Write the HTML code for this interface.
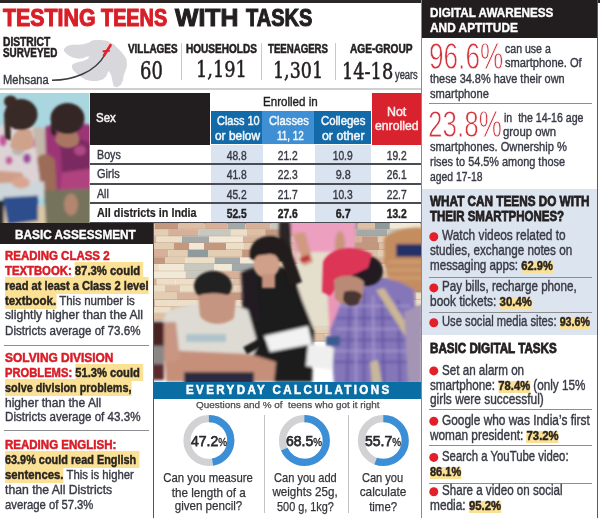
<!DOCTYPE html>
<html><head><meta charset="utf-8"><title>Testing teens with tasks</title>
<style>
html,body{margin:0;padding:0;background:#fff;}
body{width:600px;height:518px;position:relative;overflow:hidden;font-family:"Liberation Sans","DejaVu Sans",sans-serif;}
.t{position:absolute;white-space:nowrap;-webkit-text-stroke:0.4px currentColor;}
.t b{font-weight:700;color:#2a2420;-webkit-text-stroke:0.45px currentColor;}
.rb{font-weight:700;color:#d81e27;-webkit-text-stroke:0.55px currentColor;}
.hl{background:#fae196;padding:1px 0 1px 0;}
.hr{background:linear-gradient(to bottom,transparent 0,transparent 24%,#fae196 24%);padding:0 0 0 0;}
.hr b{font-size:13.4px;}
.box{position:absolute;}
svg{position:absolute;display:block;}
</style></head><body>
<!-- top rule -->
<div class="box" style="left:0;top:0;width:600px;height:3px;background:#2b2727"></div>
<!-- stats bottom rule -->
<div class="box" style="left:0;top:88px;width:421px;height:1.5px;background:#cfcfcf"></div>

<!-- stats dividers -->
<div class="box" style="left:181px;top:42.5px;width:1px;height:37.5px;background:#c9c9cb"></div>
<div class="box" style="left:261px;top:42.5px;width:1px;height:37.5px;background:#c9c9cb"></div>
<div class="box" style="left:335px;top:42.5px;width:1px;height:37.5px;background:#c9c9cb"></div>

<!-- Gujarat map -->
<svg style="left:50px;top:36px" width="82" height="56" viewBox="50 36 82 56">
  <path fill="#d8d8dc" d="M64.1,48.8 L67,46 L71.7,44.8 L77.5,44.8 L83.3,44.2 L89.2,42.4 L91.5,40.7 L95,40.1 L100.8,40.1 L106.7,40.7 L110.2,42.4 L113.7,44.2 L117.2,47.7 L120.7,51.2 L123.6,54.7 L126.5,59.3 L127,66.3 L125.3,71 L123.6,75.7 L123,80.3 L120.7,85 L117.2,87.3 L113.7,86.2 L112.5,81.5 L111.3,75.7 L109,71 L107.8,72.2 L106.7,75.7 L103.2,79.2 L97.3,81 L91.5,81 L85.7,79.8 L81,76.8 L76.3,73.3 L72.8,69.8 L71.7,66.3 L72.8,64 L77.5,62.3 L83.3,61.1 L88,58.8 L89.5,56.5 L86.8,56.6 L83.3,58.2 L78.7,58.8 L72.8,57.6 L68.2,55.3 L64,51.2 Z"/>
  <path d="M52,80.3 C72,80 95,73 105,54.5" stroke="#3a3a3f" stroke-width="1.5" fill="none"/>
  <path d="M104,55.5 L110.5,45.2" stroke="#e3202a" stroke-width="2.6" fill="none" stroke-linecap="round"/>
  <path d="M103.5,51.3 L109,50.8" stroke="#e3202a" stroke-width="2" fill="none" stroke-linecap="round"/>
</svg>

<!-- ================= PHOTO 1 ================= -->
<svg style="left:0;top:92.5px" width="89.5" height="130.5" viewBox="0 92.5 89.5 130.5">
  <defs>
    <filter id="bl1" x="-20%" y="-20%" width="140%" height="140%"><feGaussianBlur stdDeviation="1.8"/></filter>
    <filter id="bl1b" x="-20%" y="-20%" width="140%" height="140%"><feGaussianBlur stdDeviation="1.1"/></filter>
    <clipPath id="c1"><rect x="0" y="92.5" width="89.5" height="130.5"/></clipPath>
  </defs>
  <g clip-path="url(#c1)">
  <rect x="0" y="92" width="90" height="132" fill="#a9d6df"/>
  <g filter="url(#bl1)">
    <rect x="-4" y="205" width="98" height="20" fill="#d9c8a8"/>
    <!-- girl's top -->
    <path d="M-6,128 C2,122 26,122 40,128 L46,160 L42,182 L-6,184 Z" fill="#ddd3d6"/>
    <ellipse cx="3" cy="140" rx="4" ry="6" fill="#c8559e"/>
    <ellipse cx="27" cy="158" rx="4" ry="5" fill="#9a4a9e"/>
    <ellipse cx="34" cy="142" rx="3" ry="5" fill="#cf6cae"/>
    <ellipse cx="9" cy="160" rx="3.5" ry="4" fill="#c35a9a"/>
    <ellipse cx="18" cy="150" rx="6" ry="5" fill="#b9b3ad"/>
    <!-- gap between kids shoulder -->
    <path d="M32,128 C40,124 48,128 50,140 L50,175 L40,180 L36,150 Z" fill="#c4b8aa"/>
    <!-- boy jacket -->
    <path d="M45,127 C52,122 80,120 95,126 L95,195 L50,195 L46,160 Z" fill="#9c3476"/>
    <path d="M60,140 C70,136 84,138 92,144 L92,170 L62,172 Z" fill="#7a2a60"/><path d="M62,172 L92,168 L92,192 L60,192 Z" fill="#b0427f"/>
    <ellipse cx="80" cy="150" rx="6" ry="5" fill="#b04a82"/>
    <!-- boy arm -->
    <path d="M37,158 C40,152 50,152 55,160 L57,194 L42,196 Z" fill="#9c6c58"/>
    <!-- girl arm -->
    <path d="M-4,170 L22,172 L26,182 L-4,184 Z" fill="#cf9e88"/>
    <!-- notebook -->
    <path d="M-5,183 L44,181 L45,197 L-5,199 Z" fill="#cdd6da"/>
    <ellipse cx="21" cy="182" rx="9" ry="6" fill="#d8a690"/>
    <!-- jeans -->
    <path d="M3,197 L38,195 L38,220 L8,224 Z" fill="#2e4e8c"/>
    <!-- boy pants -->
    <path d="M44,190 L92,188 L92,226 L46,226 Z" fill="#74735c"/>
    <ellipse cx="71" cy="204" rx="7" ry="11" fill="#b48670"/>
    <rect x="-4" y="200" width="8" height="26" fill="#2a2a35"/>
  </g>
  <g filter="url(#bl1b)">
    <!-- girl head -->
    <path d="M10,146 C12,137 14,131 20,129 L30,129 C33,133 34,140 33,146 C30,151 16,152 10,146 Z" fill="#cfa28c"/>
    <ellipse cx="21" cy="114" rx="16.5" ry="15.5" fill="#372a27"/>
    <path d="M4,112 L10,112 L11,140 L5,138 Z" fill="#3a2c28"/>
    <ellipse cx="10.5" cy="101" rx="6.5" ry="6" fill="#3b2c28"/>
    <!-- boy head -->
    <path d="M55,140 C56,133 60,130 66,130 L74,130 C78,132 80,137 79,142 C76,149 60,150 55,140 Z" fill="#a97663"/>
    <ellipse cx="67.5" cy="118" rx="17" ry="15.5" fill="#352826"/>
    <path d="M51,118 L56,118 L56,136 L51,133 Z" fill="#35282a"/>
  </g>
  </g>
  </g>
</svg>

<!-- ================= TABLE ================= -->
<div class="box" style="left:89.5px;top:92.5px;width:120px;height:52px;background:#221d1f"></div>
<div class="box" style="left:210.5px;top:111.3px;width:51.7px;height:33.2px;background:#136aa9"></div>
<div class="box" style="left:262.2px;top:111.3px;width:51.8px;height:33.2px;background:#3e8fd3"></div>
<div class="box" style="left:314px;top:111.3px;width:56.6px;height:33.2px;background:#136aa9"></div>
<div class="box" style="left:371.5px;top:92.5px;width:50px;height:52px;background:#d8222d"></div>
<!-- light blue data columns -->
<div class="box" style="left:210.5px;top:144.5px;width:52px;height:78.5px;background:#dae4f0"></div>
<div class="box" style="left:314.5px;top:144.5px;width:56.5px;height:78.5px;background:#dae4f0"></div>
<!-- row lines -->
<div class="box" style="left:89.5px;top:163px;width:332px;height:2px;background:#4b4b52"></div>
<div class="box" style="left:89.5px;top:183px;width:332px;height:2px;background:#4b4b52"></div>
<div class="box" style="left:89.5px;top:202px;width:332px;height:2px;background:#4b4b52"></div>
<div class="box" style="left:89.5px;top:222px;width:332px;height:2px;background:#4b4b52"></div>

<!-- ================= BASIC ASSESSMENT ================= -->
<div class="box" style="left:0;top:223px;width:152.8px;height:20.6px;background:#221d1f"></div>
<div class="box" style="left:153px;top:223px;width:1px;height:295px;background:#55555a"></div>
<div class="box" style="left:4px;top:345px;width:145px;height:0;border-top:1px solid #8e8e92"></div>
<div class="box" style="left:4px;top:430px;width:145px;height:0;border-top:1px solid #8e8e92"></div>

<!-- ================= PHOTO 2 ================= -->
<svg style="left:154px;top:223px" width="267.5" height="159" viewBox="154 223 267.5 159">
  <defs>
    <filter id="bl2" x="-10%" y="-10%" width="120%" height="120%"><feGaussianBlur stdDeviation="1.8"/></filter>
    <filter id="bl2b" x="-10%" y="-10%" width="120%" height="120%"><feGaussianBlur stdDeviation="1"/></filter>
    <filter id="bl2w" x="-5%" y="-5%" width="110%" height="110%"><feGaussianBlur stdDeviation="0.7"/></filter>
    <clipPath id="c2"><rect x="154" y="223" width="267.5" height="159"/></clipPath>
  </defs>
  <g clip-path="url(#c2)">
  <g filter="url(#bl2w)"><rect x="138.1" y="223.0" width="16.6" height="6.5" fill="#dcbfa5"/>
<rect x="154.8" y="223.0" width="23.5" height="6.5" fill="#c4977f"/>
<rect x="178.2" y="223.0" width="26.1" height="6.5" fill="#dcbfa5"/>
<rect x="204.3" y="223.0" width="23.4" height="6.5" fill="#d6b098"/>
<rect x="227.7" y="223.0" width="17.8" height="6.5" fill="#a2a9a8"/>
<rect x="245.6" y="223.0" width="24.8" height="6.5" fill="#d6b098"/>
<rect x="270.4" y="223.0" width="21.9" height="6.5" fill="#c9c8bf"/>
<rect x="292.3" y="223.0" width="18.6" height="6.5" fill="#eddfc7"/>
<rect x="311.0" y="223.0" width="32.5" height="6.5" fill="#e3cdb3"/>
<rect x="343.5" y="223.0" width="14.3" height="6.5" fill="#8f9a9c"/>
<rect x="357.8" y="223.0" width="17.2" height="6.5" fill="#dcbfa5"/>
<rect x="375.0" y="223.0" width="14.9" height="6.5" fill="#8f9a9c"/>
<rect x="389.8" y="223.0" width="30.5" height="6.5" fill="#f2e8d6"/>
<rect x="420.3" y="223.0" width="25.9" height="6.5" fill="#dcbfa5"/>
<rect x="150" y="228.7" width="275" height="0.9" fill="#b99884" opacity="0.6"/>
<rect x="135.7" y="229.5" width="32.4" height="7.0" fill="#e3cdb3"/>
<rect x="168.1" y="229.5" width="30.0" height="7.0" fill="#d6b098"/>
<rect x="198.2" y="229.5" width="32.7" height="7.0" fill="#c9c8bf"/>
<rect x="230.9" y="229.5" width="15.9" height="7.0" fill="#eddfc7"/>
<rect x="246.8" y="229.5" width="18.3" height="7.0" fill="#dcbfa5"/>
<rect x="265.2" y="229.5" width="22.7" height="7.0" fill="#c4977f"/>
<rect x="287.9" y="229.5" width="20.0" height="7.0" fill="#d6b098"/>
<rect x="307.9" y="229.5" width="21.7" height="7.0" fill="#e3cdb3"/>
<rect x="329.6" y="229.5" width="25.7" height="7.0" fill="#c4977f"/>
<rect x="355.3" y="229.5" width="32.1" height="7.0" fill="#a2a9a8"/>
<rect x="387.4" y="229.5" width="32.6" height="7.0" fill="#c9c8bf"/>
<rect x="420.0" y="229.5" width="33.8" height="7.0" fill="#a2a9a8"/>
<rect x="150" y="235.7" width="275" height="0.9" fill="#b99884" opacity="0.6"/>
<rect x="136.0" y="236.5" width="20.5" height="6.5" fill="#d6b098"/>
<rect x="156.6" y="236.5" width="25.4" height="6.5" fill="#eddfc7"/>
<rect x="182.0" y="236.5" width="27.1" height="6.5" fill="#a2a9a8"/>
<rect x="209.1" y="236.5" width="33.8" height="6.5" fill="#f2e8d6"/>
<rect x="242.9" y="236.5" width="16.5" height="6.5" fill="#d6b098"/>
<rect x="259.4" y="236.5" width="26.8" height="6.5" fill="#d6b098"/>
<rect x="286.1" y="236.5" width="20.9" height="6.5" fill="#eddfc7"/>
<rect x="307.0" y="236.5" width="31.9" height="6.5" fill="#eddfc7"/>
<rect x="339.0" y="236.5" width="22.5" height="6.5" fill="#d6b098"/>
<rect x="361.5" y="236.5" width="16.4" height="6.5" fill="#c4977f"/>
<rect x="377.9" y="236.5" width="29.2" height="6.5" fill="#e3cdb3"/>
<rect x="407.1" y="236.5" width="25.7" height="6.5" fill="#d6b098"/>
<rect x="150" y="242.2" width="275" height="0.9" fill="#b99884" opacity="0.6"/>
<rect x="139.9" y="243.0" width="34.0" height="7.0" fill="#e3cdb3"/>
<rect x="173.9" y="243.0" width="15.5" height="7.0" fill="#c4977f"/>
<rect x="189.4" y="243.0" width="14.6" height="7.0" fill="#f2e8d6"/>
<rect x="204.0" y="243.0" width="22.2" height="7.0" fill="#c4977f"/>
<rect x="226.2" y="243.0" width="17.1" height="7.0" fill="#eddfc7"/>
<rect x="243.3" y="243.0" width="31.4" height="7.0" fill="#e3cdb3"/>
<rect x="274.7" y="243.0" width="33.2" height="7.0" fill="#dcbfa5"/>
<rect x="307.8" y="243.0" width="21.6" height="7.0" fill="#d6b098"/>
<rect x="329.4" y="243.0" width="24.4" height="7.0" fill="#a2a9a8"/>
<rect x="353.8" y="243.0" width="25.9" height="7.0" fill="#c4977f"/>
<rect x="379.7" y="243.0" width="26.4" height="7.0" fill="#dcbfa5"/>
<rect x="406.1" y="243.0" width="24.1" height="7.0" fill="#d6b098"/>
<rect x="150" y="249.2" width="275" height="0.9" fill="#b99884" opacity="0.6"/>
<rect x="135.7" y="250.0" width="32.7" height="7.5" fill="#d6b098"/>
<rect x="168.4" y="250.0" width="19.2" height="7.5" fill="#e3cdb3"/>
<rect x="187.6" y="250.0" width="20.8" height="7.5" fill="#8f9a9c"/>
<rect x="208.4" y="250.0" width="33.7" height="7.5" fill="#e3cdb3"/>
<rect x="242.1" y="250.0" width="21.5" height="7.5" fill="#c4977f"/>
<rect x="263.6" y="250.0" width="16.7" height="7.5" fill="#a2a9a8"/>
<rect x="280.3" y="250.0" width="20.6" height="7.5" fill="#e3cdb3"/>
<rect x="301.0" y="250.0" width="32.3" height="7.5" fill="#c4977f"/>
<rect x="333.3" y="250.0" width="19.6" height="7.5" fill="#d6b098"/>
<rect x="352.9" y="250.0" width="25.8" height="7.5" fill="#dcbfa5"/>
<rect x="378.7" y="250.0" width="14.4" height="7.5" fill="#e3cdb3"/>
<rect x="393.1" y="250.0" width="26.6" height="7.5" fill="#e3cdb3"/>
<rect x="419.7" y="250.0" width="26.0" height="7.5" fill="#eddfc7"/>
<rect x="150" y="256.7" width="275" height="0.9" fill="#b99884" opacity="0.6"/>
<rect x="143.7" y="257.5" width="21.4" height="6.5" fill="#c4977f"/>
<rect x="165.1" y="257.5" width="20.0" height="6.5" fill="#e3cdb3"/>
<rect x="185.1" y="257.5" width="29.4" height="6.5" fill="#eddfc7"/>
<rect x="214.6" y="257.5" width="25.4" height="6.5" fill="#a2a9a8"/>
<rect x="240.0" y="257.5" width="20.2" height="6.5" fill="#f2e8d6"/>
<rect x="260.2" y="257.5" width="30.1" height="6.5" fill="#f2e8d6"/>
<rect x="290.2" y="257.5" width="17.7" height="6.5" fill="#d6b098"/>
<rect x="308.0" y="257.5" width="28.0" height="6.5" fill="#eddfc7"/>
<rect x="336.0" y="257.5" width="20.4" height="6.5" fill="#e3cdb3"/>
<rect x="356.4" y="257.5" width="30.7" height="6.5" fill="#d6b098"/>
<rect x="387.1" y="257.5" width="31.1" height="6.5" fill="#eddfc7"/>
<rect x="418.2" y="257.5" width="20.7" height="6.5" fill="#a2a9a8"/>
<rect x="150" y="263.2" width="275" height="0.9" fill="#b99884" opacity="0.6"/>
<rect x="141.0" y="264.0" width="18.5" height="7.5" fill="#eddfc7"/>
<rect x="159.5" y="264.0" width="24.6" height="7.5" fill="#f2e8d6"/>
<rect x="184.1" y="264.0" width="30.1" height="7.5" fill="#c9c8bf"/>
<rect x="214.2" y="264.0" width="17.7" height="7.5" fill="#f2e8d6"/>
<rect x="231.9" y="264.0" width="30.1" height="7.5" fill="#a2a9a8"/>
<rect x="262.0" y="264.0" width="30.1" height="7.5" fill="#e3cdb3"/>
<rect x="292.1" y="264.0" width="16.6" height="7.5" fill="#f2e8d6"/>
<rect x="308.7" y="264.0" width="29.9" height="7.5" fill="#f2e8d6"/>
<rect x="338.6" y="264.0" width="20.9" height="7.5" fill="#d6b098"/>
<rect x="359.5" y="264.0" width="22.4" height="7.5" fill="#d6b098"/>
<rect x="381.9" y="264.0" width="32.4" height="7.5" fill="#eddfc7"/>
<rect x="414.4" y="264.0" width="14.1" height="7.5" fill="#dcbfa5"/>
<rect x="150" y="270.7" width="275" height="0.9" fill="#b99884" opacity="0.6"/>
<rect x="130.3" y="271.5" width="22.7" height="7.5" fill="#dcbfa5"/>
<rect x="152.9" y="271.5" width="32.5" height="7.5" fill="#f2e8d6"/>
<rect x="185.5" y="271.5" width="28.9" height="7.5" fill="#c9c8bf"/>
<rect x="214.4" y="271.5" width="27.3" height="7.5" fill="#d6b098"/>
<rect x="241.7" y="271.5" width="19.8" height="7.5" fill="#e3cdb3"/>
<rect x="261.4" y="271.5" width="18.5" height="7.5" fill="#eddfc7"/>
<rect x="280.0" y="271.5" width="25.8" height="7.5" fill="#f2e8d6"/>
<rect x="305.8" y="271.5" width="30.2" height="7.5" fill="#eddfc7"/>
<rect x="336.0" y="271.5" width="32.1" height="7.5" fill="#a2a9a8"/>
<rect x="368.0" y="271.5" width="32.5" height="7.5" fill="#dcbfa5"/>
<rect x="400.5" y="271.5" width="32.0" height="7.5" fill="#c4977f"/>
<rect x="150" y="278.2" width="275" height="0.9" fill="#b99884" opacity="0.6"/>
<rect x="140.4" y="279.0" width="16.4" height="6.5" fill="#d6b098"/>
<rect x="156.8" y="279.0" width="18.8" height="6.5" fill="#eddfc7"/>
<rect x="175.6" y="279.0" width="24.7" height="6.5" fill="#eddfc7"/>
<rect x="200.3" y="279.0" width="32.3" height="6.5" fill="#eddfc7"/>
<rect x="232.6" y="279.0" width="16.5" height="6.5" fill="#dcbfa5"/>
<rect x="249.1" y="279.0" width="24.8" height="6.5" fill="#8f9a9c"/>
<rect x="273.9" y="279.0" width="15.2" height="6.5" fill="#f2e8d6"/>
<rect x="289.1" y="279.0" width="16.4" height="6.5" fill="#c9c8bf"/>
<rect x="305.6" y="279.0" width="16.4" height="6.5" fill="#f2e8d6"/>
<rect x="322.0" y="279.0" width="19.5" height="6.5" fill="#dcbfa5"/>
<rect x="341.4" y="279.0" width="16.6" height="6.5" fill="#dcbfa5"/>
<rect x="358.0" y="279.0" width="23.8" height="6.5" fill="#c4977f"/>
<rect x="381.8" y="279.0" width="22.0" height="6.5" fill="#8f9a9c"/>
<rect x="403.8" y="279.0" width="19.0" height="6.5" fill="#c4977f"/>
<rect x="422.7" y="279.0" width="24.4" height="6.5" fill="#eddfc7"/>
<rect x="150" y="284.7" width="275" height="0.9" fill="#b99884" opacity="0.6"/>
<rect x="134.5" y="285.5" width="14.0" height="7.0" fill="#eddfc7"/>
<rect x="148.5" y="285.5" width="16.5" height="7.0" fill="#eddfc7"/>
<rect x="165.0" y="285.5" width="15.4" height="7.0" fill="#dcbfa5"/>
<rect x="180.4" y="285.5" width="31.1" height="7.0" fill="#eddfc7"/>
<rect x="211.5" y="285.5" width="24.0" height="7.0" fill="#e3cdb3"/>
<rect x="235.5" y="285.5" width="20.3" height="7.0" fill="#e3cdb3"/>
<rect x="255.8" y="285.5" width="26.9" height="7.0" fill="#c4977f"/>
<rect x="282.8" y="285.5" width="21.2" height="7.0" fill="#f2e8d6"/>
<rect x="304.0" y="285.5" width="20.6" height="7.0" fill="#eddfc7"/>
<rect x="324.6" y="285.5" width="25.1" height="7.0" fill="#a2a9a8"/>
<rect x="349.7" y="285.5" width="21.6" height="7.0" fill="#eddfc7"/>
<rect x="371.3" y="285.5" width="17.6" height="7.0" fill="#e3cdb3"/>
<rect x="388.9" y="285.5" width="26.1" height="7.0" fill="#8f9a9c"/>
<rect x="414.9" y="285.5" width="21.6" height="7.0" fill="#8f9a9c"/>
<rect x="150" y="291.7" width="275" height="0.9" fill="#b99884" opacity="0.6"/>
<rect x="132.3" y="292.5" width="15.1" height="7.5" fill="#c4977f"/>
<rect x="147.3" y="292.5" width="29.2" height="7.5" fill="#e3cdb3"/>
<rect x="176.5" y="292.5" width="33.0" height="7.5" fill="#d6b098"/>
<rect x="209.5" y="292.5" width="14.4" height="7.5" fill="#f2e8d6"/>
<rect x="223.9" y="292.5" width="19.4" height="7.5" fill="#c4977f"/>
<rect x="243.3" y="292.5" width="30.1" height="7.5" fill="#f2e8d6"/>
<rect x="273.4" y="292.5" width="16.6" height="7.5" fill="#eddfc7"/>
<rect x="290.0" y="292.5" width="20.5" height="7.5" fill="#dcbfa5"/>
<rect x="310.5" y="292.5" width="25.2" height="7.5" fill="#c9c8bf"/>
<rect x="335.7" y="292.5" width="16.4" height="7.5" fill="#a2a9a8"/>
<rect x="352.1" y="292.5" width="32.8" height="7.5" fill="#a2a9a8"/>
<rect x="384.9" y="292.5" width="31.0" height="7.5" fill="#d6b098"/>
<rect x="415.9" y="292.5" width="21.5" height="7.5" fill="#eddfc7"/>
<rect x="150" y="299.2" width="275" height="0.9" fill="#b99884" opacity="0.6"/>
<rect x="138.7" y="300.0" width="16.1" height="7.0" fill="#c4977f"/>
<rect x="154.8" y="300.0" width="14.1" height="7.0" fill="#eddfc7"/>
<rect x="168.9" y="300.0" width="29.5" height="7.0" fill="#eddfc7"/>
<rect x="198.4" y="300.0" width="15.8" height="7.0" fill="#eddfc7"/>
<rect x="214.2" y="300.0" width="31.6" height="7.0" fill="#eddfc7"/>
<rect x="245.8" y="300.0" width="14.5" height="7.0" fill="#c9c8bf"/>
<rect x="260.3" y="300.0" width="16.4" height="7.0" fill="#c9c8bf"/>
<rect x="276.7" y="300.0" width="27.5" height="7.0" fill="#c9c8bf"/>
<rect x="304.2" y="300.0" width="33.0" height="7.0" fill="#c4977f"/>
<rect x="337.2" y="300.0" width="30.0" height="7.0" fill="#eddfc7"/>
<rect x="367.2" y="300.0" width="29.3" height="7.0" fill="#d6b098"/>
<rect x="396.6" y="300.0" width="28.3" height="7.0" fill="#eddfc7"/>
<rect x="424.9" y="300.0" width="29.0" height="7.0" fill="#dcbfa5"/>
<rect x="150" y="306.2" width="275" height="0.9" fill="#b99884" opacity="0.6"/>
<rect x="139.0" y="307.0" width="31.4" height="6.5" fill="#eddfc7"/>
<rect x="170.4" y="307.0" width="15.5" height="6.5" fill="#dcbfa5"/>
<rect x="185.9" y="307.0" width="26.9" height="6.5" fill="#d6b098"/>
<rect x="212.9" y="307.0" width="28.0" height="6.5" fill="#dcbfa5"/>
<rect x="240.9" y="307.0" width="19.1" height="6.5" fill="#c4977f"/>
<rect x="259.9" y="307.0" width="32.8" height="6.5" fill="#c4977f"/>
<rect x="292.7" y="307.0" width="33.3" height="6.5" fill="#e3cdb3"/>
<rect x="326.0" y="307.0" width="18.7" height="6.5" fill="#dcbfa5"/>
<rect x="344.7" y="307.0" width="30.9" height="6.5" fill="#dcbfa5"/>
<rect x="375.6" y="307.0" width="22.3" height="6.5" fill="#c4977f"/>
<rect x="397.9" y="307.0" width="25.6" height="6.5" fill="#dcbfa5"/>
<rect x="423.5" y="307.0" width="27.7" height="6.5" fill="#eddfc7"/>
<rect x="150" y="312.7" width="275" height="0.9" fill="#b99884" opacity="0.6"/>
<rect x="132.1" y="313.5" width="17.0" height="7.0" fill="#eddfc7"/>
<rect x="149.0" y="313.5" width="29.0" height="7.0" fill="#dcbfa5"/>
<rect x="178.0" y="313.5" width="24.3" height="7.0" fill="#d6b098"/>
<rect x="202.3" y="313.5" width="28.4" height="7.0" fill="#f2e8d6"/>
<rect x="230.7" y="313.5" width="19.3" height="7.0" fill="#f2e8d6"/>
<rect x="250.1" y="313.5" width="25.7" height="7.0" fill="#e3cdb3"/>
<rect x="275.8" y="313.5" width="18.6" height="7.0" fill="#a2a9a8"/>
<rect x="294.4" y="313.5" width="33.1" height="7.0" fill="#f2e8d6"/>
<rect x="327.5" y="313.5" width="28.1" height="7.0" fill="#d6b098"/>
<rect x="355.6" y="313.5" width="31.1" height="7.0" fill="#c4977f"/>
<rect x="386.7" y="313.5" width="19.3" height="7.0" fill="#f2e8d6"/>
<rect x="406.0" y="313.5" width="14.5" height="7.0" fill="#d6b098"/>
<rect x="420.5" y="313.5" width="21.7" height="7.0" fill="#eddfc7"/>
<rect x="150" y="319.7" width="275" height="0.9" fill="#b99884" opacity="0.6"/>
<rect x="145.2" y="320.5" width="23.7" height="7.0" fill="#c9c8bf"/>
<rect x="168.9" y="320.5" width="22.4" height="7.0" fill="#a2a9a8"/>
<rect x="191.2" y="320.5" width="28.0" height="7.0" fill="#f2e8d6"/>
<rect x="219.3" y="320.5" width="25.6" height="7.0" fill="#dcbfa5"/>
<rect x="244.9" y="320.5" width="27.0" height="7.0" fill="#eddfc7"/>
<rect x="271.9" y="320.5" width="33.9" height="7.0" fill="#eddfc7"/>
<rect x="305.8" y="320.5" width="33.0" height="7.0" fill="#8f9a9c"/>
<rect x="338.7" y="320.5" width="31.6" height="7.0" fill="#eddfc7"/>
<rect x="370.4" y="320.5" width="32.2" height="7.0" fill="#dcbfa5"/>
<rect x="402.6" y="320.5" width="27.0" height="7.0" fill="#8f9a9c"/>
<rect x="150" y="326.7" width="275" height="0.9" fill="#b99884" opacity="0.6"/>
<rect x="130.8" y="327.5" width="31.1" height="6.5" fill="#f2e8d6"/>
<rect x="161.9" y="327.5" width="17.8" height="6.5" fill="#f2e8d6"/>
<rect x="179.7" y="327.5" width="17.7" height="6.5" fill="#a2a9a8"/>
<rect x="197.4" y="327.5" width="31.2" height="6.5" fill="#dcbfa5"/>
<rect x="228.6" y="327.5" width="19.1" height="6.5" fill="#c9c8bf"/>
<rect x="247.7" y="327.5" width="20.3" height="6.5" fill="#d6b098"/>
<rect x="268.0" y="327.5" width="28.6" height="6.5" fill="#eddfc7"/>
<rect x="296.6" y="327.5" width="15.9" height="6.5" fill="#c9c8bf"/>
<rect x="312.4" y="327.5" width="19.8" height="6.5" fill="#e3cdb3"/>
<rect x="332.2" y="327.5" width="25.6" height="6.5" fill="#a2a9a8"/>
<rect x="357.9" y="327.5" width="14.1" height="6.5" fill="#e3cdb3"/>
<rect x="372.0" y="327.5" width="22.7" height="6.5" fill="#d6b098"/>
<rect x="394.7" y="327.5" width="18.2" height="6.5" fill="#c4977f"/>
<rect x="412.9" y="327.5" width="33.1" height="6.5" fill="#e3cdb3"/>
<rect x="150" y="333.2" width="275" height="0.9" fill="#b99884" opacity="0.6"/>
<rect x="143.6" y="334.0" width="31.7" height="7.5" fill="#eddfc7"/>
<rect x="175.3" y="334.0" width="22.7" height="7.5" fill="#d6b098"/>
<rect x="197.9" y="334.0" width="24.5" height="7.5" fill="#f2e8d6"/>
<rect x="222.5" y="334.0" width="24.6" height="7.5" fill="#a2a9a8"/>
<rect x="247.0" y="334.0" width="27.6" height="7.5" fill="#e3cdb3"/>
<rect x="274.6" y="334.0" width="23.0" height="7.5" fill="#a2a9a8"/>
<rect x="297.6" y="334.0" width="27.4" height="7.5" fill="#dcbfa5"/>
<rect x="325.0" y="334.0" width="30.3" height="7.5" fill="#eddfc7"/>
<rect x="355.4" y="334.0" width="32.9" height="7.5" fill="#e3cdb3"/>
<rect x="388.3" y="334.0" width="25.3" height="7.5" fill="#d6b098"/>
<rect x="413.6" y="334.0" width="27.3" height="7.5" fill="#d6b098"/>
<rect x="150" y="340.7" width="275" height="0.9" fill="#b99884" opacity="0.6"/></g>
  <g filter="url(#bl2)">
    <rect x="279" y="221" width="12" height="36" fill="#2a2626"/>
    <!-- woman pink -->
    <path d="M290,220 L356,220 L354,256 L340,262 L296,262 Z" fill="#ec9fbf"/>
    <path d="M297,252 L334,252 L336,328 L300,328 Z" fill="#e4dfcc"/>
    <path d="M326,268 L354,268 L352,342 L330,342 Z" fill="#ea96b8"/>
    <path d="M293,234 L305,232 L313,262 L304,266 Z" fill="#cf9a80"/>
    <rect x="300" y="256" width="10" height="6" fill="#c0303a" transform="rotate(-20 305 259)"/>
    <ellipse cx="340" cy="244" rx="5" ry="13" fill="#c9957b"/>
    <!-- chair -->
    <path d="M384,238 C392,229 414,226 424,228 L424,292 L392,290 L384,264 Z" fill="#c38d60"/>
    <g stroke="#dcae82" stroke-width="1.5" opacity="0.8"><line x1="388" y1="262" x2="422" y2="262"/><line x1="388" y1="270" x2="422" y2="270"/><line x1="389" y1="278" x2="422" y2="278"/></g>
    <rect x="396" y="244" width="28" height="13" fill="#243066"/>
    <!-- girl black -->
    <path d="M243,272 C250,266 278,264 292,270 L302,300 L314,330 L312,382 L240,382 Z" fill="#1f1b1f"/>
    <path d="M241,272 L256,270 L260,322 L244,324 Z" fill="#211c20"/>
    <!-- man shirt purple -->
    <path d="M352,280 C370,274 398,278 414,290 L422,384 L334,384 L330,330 L342,300 Z" fill="#8576b9"/>
    <g stroke="#5e53a2" stroke-width="2.2" opacity="0.85"><line x1="350" y1="296" x2="347" y2="384"/><line x1="364" y1="292" x2="364" y2="384"/><line x1="382" y1="300" x2="384" y2="384"/><line x1="398" y1="300" x2="400" y2="384"/><line x1="336" y1="318" x2="410" y2="318"/><line x1="334" y1="340" x2="410" y2="340"/><line x1="334" y1="362" x2="410" y2="362"/></g>
    <g stroke="#b4a6d8" stroke-width="1.6" opacity="0.8"><line x1="356" y1="294" x2="356" y2="384"/><line x1="373" y1="296" x2="374" y2="384"/><line x1="336" y1="329" x2="410" y2="329"/><line x1="334" y1="351" x2="410" y2="351"/><line x1="336" y1="306" x2="410" y2="306"/></g>
    <path d="M376,290 L384,288 L412,332 L405,336 Z" fill="#cbb696"/>
    <path d="M404,312 L422,304 L422,384 L408,384 Z" fill="#a495b4"/>
    <path d="M370,362 L378,360 L382,384 L372,384 Z" fill="#c8b89a"/>
    <!-- boy t-shirt -->
    <path d="M166,312 C182,302 228,300 248,310 L258,345 L250,362 L164,362 L160,335 Z" fill="#dedbd4"/>
    <rect x="186" y="334" width="40" height="8" fill="#8fb3c4" opacity="0.6"/>
    <!-- boy arms -->
    <path d="M164,350 L250,354 L276,362 L274,382 L166,382 Z" fill="#c58f7a"/>
    <path d="M160,322 L176,322 L180,360 L164,362 Z" fill="#c89682"/>
    <rect x="184" y="372" width="70" height="12" fill="#2a2c40"/>
    <rect x="152" y="322" width="12" height="24" fill="#4a2228"/><rect x="152" y="346" width="12" height="18" fill="#8a8686"/><rect x="152" y="364" width="12" height="16" fill="#5a2a2e"/>
    <!-- papers -->
    <path d="M264,336 L308,326 L312,344 L270,352 Z" fill="#f2f2f2"/>
    <path d="M308,344 L334,348 L332,370 L306,366 Z" fill="#efefef"/>
    <rect x="326" y="336" width="14" height="10" fill="#3a5a90"/>
  </g>
  <g filter="url(#bl2b)">
    <!-- girl hair/face -->
    <path d="M250,258 C248,244 258,236 270,236 C282,236 290,244 292,254 L302,282 L290,286 L282,262 L256,262 Z" fill="#221b1c"/>
    <ellipse cx="266.5" cy="265" rx="13" ry="13" fill="#d0a08a"/>
    <rect x="262" y="274" width="13" height="14" fill="#c4937e"/>
    <path d="M253,256 C256,248 278,246 283,256 L270,254 Z" fill="#221b1c"/>
    <!-- boy head -->
    <ellipse cx="213" cy="286" rx="19" ry="15" fill="#242020"/>
    <path d="M198,296 C205,292 225,292 236,298 L234,318 C226,326 206,326 200,316 Z" fill="#c69581"/>
    <!-- man -->
    <ellipse cx="367" cy="271" rx="16" ry="15" fill="#211d20"/>
    <path d="M323,262 C330,246 356,244 372,254 L368,268 L342,280 L330,296 L322,292 Z" fill="#dc3457"/>
    <path d="M334,280 C340,274 358,274 364,282 L362,300 C354,306 340,306 335,298 Z" fill="#b98a76"/><path d="M344,292 C350,290 360,290 362,296 L358,304 C352,307 346,306 343,300 Z" fill="#4a3430"/>
    <!-- phone -->
    <rect x="244" y="342" width="20" height="8" fill="#1a1a1a" transform="rotate(-28 254 346)"/>
  </g>
  </g>
</svg>

<!-- ================= EVERYDAY ================= -->
<div class="box" style="left:153.5px;top:381.8px;width:268px;height:17px;background:#0a6ea5"></div>
<div class="box" style="left:264px;top:414.5px;width:1px;height:98.5px;background:#c4c4c6"></div>
<div class="box" style="left:348px;top:414.5px;width:1px;height:98.5px;background:#c4c4c6"></div>
<svg style="left:154px;top:400px" width="268" height="80" viewBox="154 400 268 80">
  <g fill="none" stroke-width="7.2">
    <circle cx="208.9" cy="440.5" r="21.9" stroke="#d2d2d4"/>
    <circle cx="208.9" cy="440.5" r="21.9" stroke="#3b8fd6" pathLength="100" stroke-dasharray="47.2 100" transform="rotate(-90 208.9 440.5)"/>
    <circle cx="304.4" cy="440.5" r="21.9" stroke="#d2d2d4"/>
    <circle cx="304.4" cy="440.5" r="21.9" stroke="#3b8fd6" pathLength="100" stroke-dasharray="68.5 100" transform="rotate(-90 304.4 440.5)"/>
    <circle cx="383.3" cy="440.5" r="21.9" stroke="#d2d2d4"/>
    <circle cx="383.3" cy="440.5" r="21.9" stroke="#3b8fd6" pathLength="100" stroke-dasharray="55.7 100" transform="rotate(-90 383.3 440.5)"/>
  </g>
</svg>

<!-- ================= RIGHT COLUMN ================= -->
<div class="box" style="left:421.3px;top:0;width:1px;height:518px;background:#8a8a8e"></div>
<div class="box" style="left:596.8px;top:0;width:1.2px;height:518px;background:#5a5a5e"></div>
<div class="box" style="left:422.3px;top:0;width:175px;height:37.6px;background:#221d1f"></div>
<div class="box" style="left:422.3px;top:188.7px;width:174.5px;height:146.6px;background:#dce4f0"></div>
<div class="box" style="left:429px;top:103px;width:163px;height:0;border-top:1px solid #8e8e92"></div>
<div class="box" style="left:429px;top:277px;width:163px;height:0;border-top:1px solid #8e8e92"></div>
<div class="box" style="left:429px;top:312px;width:163px;height:0;border-top:1px solid #8e8e92"></div>
<div class="box" style="left:429px;top:409px;width:163px;height:0;border-top:1px solid #8e8e92"></div>
<div class="box" style="left:429px;top:445px;width:163px;height:0;border-top:1px solid #8e8e92"></div>
<div class="box" style="left:429px;top:483px;width:163px;height:0;border-top:1px solid #8e8e92"></div>
<svg style="left:422px;top:0" width="24" height="518" viewBox="422 0 24 518">
  <g fill="#e3202a">
    <circle cx="433.8" cy="236.8" r="4.5"/>
    <circle cx="433.8" cy="287.9" r="4.5"/>
    <circle cx="433.8" cy="322.7" r="4.5"/>
    <circle cx="433.8" cy="370.9" r="4.5"/>
    <circle cx="433.8" cy="421.2" r="4.5"/>
    <circle cx="433.8" cy="457.4" r="4.5"/>
    <circle cx="433.8" cy="491.8" r="4.5"/>
  </g>
</svg>

<div class="t" id="t0" style="left:2.50px;top:5.81px;font-size:24.8px;line-height:24.8px;font-weight:700;color:#d81e27;-webkit-text-stroke:1.1px currentColor;transform:scaleX(0.8607);transform-origin:0 0;">TESTING</div>
<div class="t" id="t1" style="left:101.30px;top:5.81px;font-size:24.8px;line-height:24.8px;font-weight:700;color:#d81e27;-webkit-text-stroke:1.1px currentColor;transform:scaleX(0.8006);transform-origin:0 0;">TEENS</div>
<div class="t" id="t2" style="left:174.90px;top:5.81px;font-size:24.8px;line-height:24.8px;font-weight:700;color:#231f20;-webkit-text-stroke:1.1px currentColor;transform:scaleX(0.9991);transform-origin:0 0;">WITH</div>
<div class="t" id="t3" style="left:245.50px;top:5.81px;font-size:24.8px;line-height:24.8px;font-weight:700;color:#231f20;-webkit-text-stroke:1.1px currentColor;transform:scaleX(0.8053);transform-origin:0 0;">TASKS</div>
<div class="t" id="t4" style="left:2.90px;top:35.86px;font-size:12.8px;line-height:12.8px;font-weight:700;color:#231f20;-webkit-text-stroke:0.55px currentColor;transform:scaleX(0.8015);transform-origin:0 0;">DISTRICT</div>
<div class="t" id="t5" style="left:2.90px;top:46.96px;font-size:12.8px;line-height:12.8px;font-weight:700;color:#231f20;-webkit-text-stroke:0.55px currentColor;transform:scaleX(0.7738);transform-origin:0 0;">SURVEYED</div>
<div class="t" id="t6" style="left:3.00px;top:73.82px;font-size:12.5px;line-height:12.5px;font-weight:400;color:#383a45;transform:scaleX(0.8885);transform-origin:0 0;">Mehsana</div>
<div class="t" id="t7" style="left:127.50px;top:42.50px;font-size:12.4px;line-height:12.4px;font-weight:700;color:#231f20;-webkit-text-stroke:0.55px currentColor;transform:scaleX(0.7988);transform-origin:0 0;">VILLAGES</div>
<div class="t" id="t8" style="left:186.00px;top:42.50px;font-size:12.4px;line-height:12.4px;font-weight:700;color:#231f20;-webkit-text-stroke:0.55px currentColor;transform:scaleX(0.8120);transform-origin:0 0;">HOUSEHOLDS</div>
<div class="t" id="t9" style="left:268.00px;top:42.50px;font-size:12.4px;line-height:12.4px;font-weight:700;color:#231f20;-webkit-text-stroke:0.55px currentColor;transform:scaleX(0.7781);transform-origin:0 0;">TEENAGERS</div>
<div class="t" id="t10" style="left:350.00px;top:42.50px;font-size:12.4px;line-height:12.4px;font-weight:700;color:#231f20;-webkit-text-stroke:0.55px currentColor;transform:scaleX(0.8178);transform-origin:0 0;">AGE-GROUP</div>
<div class="t" id="t11" style="left:139.80px;top:60.22px;font-size:23.6px;line-height:23.6px;font-weight:400;color:#231f20;font-family:'DejaVu Serif Condensed','DejaVu Serif','Liberation Serif',serif;-webkit-text-stroke:0.5px currentColor;transform:scaleX(0.8440);transform-origin:0 0;">60</div>
<div class="t" id="t12" style="left:195.60px;top:58.47px;font-size:22.6px;line-height:22.6px;font-weight:400;color:#231f20;font-family:'DejaVu Serif Condensed','DejaVu Serif','Liberation Serif',serif;-webkit-text-stroke:0.5px currentColor;transform:scaleX(0.8730);transform-origin:0 0;">1,191</div>
<div class="t" id="t13" style="left:272.80px;top:59.27px;font-size:22.6px;line-height:22.6px;font-weight:400;color:#231f20;font-family:'DejaVu Serif Condensed','DejaVu Serif','Liberation Serif',serif;-webkit-text-stroke:0.5px currentColor;transform:scaleX(0.8593);transform-origin:0 0;">1,301</div>
<div class="t" id="t14" style="left:342.40px;top:59.87px;font-size:22.6px;line-height:22.6px;font-weight:400;color:#231f20;font-family:'DejaVu Serif Condensed','DejaVu Serif','Liberation Serif',serif;-webkit-text-stroke:0.5px currentColor;transform:scaleX(0.8738);transform-origin:0 0;">14-18</div>
<div class="t" id="t15" style="left:394.50px;top:68.84px;font-size:12px;line-height:12px;font-weight:400;color:#383a45;transform:scaleX(0.7736);transform-origin:0 0;">years</div>
<div class="t" id="t16" style="left:95.60px;top:111.26px;font-size:13.4px;line-height:13.4px;font-weight:400;color:#f2f2f2;-webkit-text-stroke:0.55px currentColor;transform:scaleX(0.8580);transform-origin:0 0;">Sex</div>
<div class="t" id="t17" style="left:263.30px;top:94.50px;font-size:13px;line-height:13px;font-weight:400;color:#231f20;transform:scaleX(0.8903);transform-origin:0 0;">Enrolled in</div>
<div class="t" id="t18" style="left:217.00px;top:114.20px;font-size:13px;line-height:13px;font-weight:400;color:#f4f8fc;-webkit-text-stroke:0.5px currentColor;transform:scaleX(0.8423);transform-origin:0 0;">Class 10</div>
<div class="t" id="t19" style="left:214.60px;top:128.70px;font-size:13px;line-height:13px;font-weight:400;color:#f4f8fc;-webkit-text-stroke:0.5px currentColor;transform:scaleX(0.9157);transform-origin:0 0;">or below</div>
<div class="t" id="t20" style="left:269.00px;top:114.20px;font-size:13px;line-height:13px;font-weight:400;color:#f4f8fc;-webkit-text-stroke:0.5px currentColor;transform:scaleX(0.8605);transform-origin:0 0;">Classes</div>
<div class="t" id="t21" style="left:277.00px;top:128.70px;font-size:13px;line-height:13px;font-weight:400;color:#f4f8fc;-webkit-text-stroke:0.5px currentColor;transform:scaleX(0.7616);transform-origin:0 0;">11, 12</div>
<div class="t" id="t22" style="left:321.00px;top:114.20px;font-size:13px;line-height:13px;font-weight:400;color:#f4f8fc;-webkit-text-stroke:0.5px currentColor;transform:scaleX(0.8776);transform-origin:0 0;">Colleges</div>
<div class="t" id="t23" style="left:322.00px;top:128.70px;font-size:13px;line-height:13px;font-weight:400;color:#f4f8fc;-webkit-text-stroke:0.5px currentColor;transform:scaleX(0.9506);transform-origin:0 0;">or other</div>
<div class="t" id="t24" style="left:386.50px;top:104.80px;font-size:13px;line-height:13px;font-weight:400;color:#fbeeee;-webkit-text-stroke:0.5px currentColor;transform:scaleX(0.9538);transform-origin:0 0;">Not</div>
<div class="t" id="t25" style="left:375.00px;top:119.40px;font-size:13px;line-height:13px;font-weight:400;color:#fbeeee;-webkit-text-stroke:0.5px currentColor;transform:scaleX(0.9402);transform-origin:0 0;">enrolled</div>
<div class="t" id="t26" style="left:97.00px;top:149.16px;font-size:12.8px;line-height:12.8px;font-weight:400;color:#383a45;transform:scaleX(0.8365);transform-origin:0 0;">Boys</div>
<div class="t" id="t27" style="left:224.82px;top:149.84px;font-size:12px;line-height:12px;font-weight:400;color:#383a45;transform:scaleX(0.8562);transform-origin:50% 0;">48.8</div>
<div class="t" id="t28" style="left:276.32px;top:149.84px;font-size:12px;line-height:12px;font-weight:400;color:#383a45;transform:scaleX(0.8562);transform-origin:50% 0;">21.2</div>
<div class="t" id="t29" style="left:331.32px;top:149.84px;font-size:12px;line-height:12px;font-weight:400;color:#383a45;transform:scaleX(0.8562);transform-origin:50% 0;">10.9</div>
<div class="t" id="t30" style="left:384.72px;top:149.84px;font-size:12px;line-height:12px;font-weight:400;color:#383a45;transform:scaleX(0.8562);transform-origin:50% 0;">19.2</div>
<div class="t" id="t31" style="left:97.00px;top:168.46px;font-size:12.8px;line-height:12.8px;font-weight:400;color:#383a45;transform:scaleX(0.8627);transform-origin:0 0;">Girls</div>
<div class="t" id="t32" style="left:224.82px;top:169.14px;font-size:12px;line-height:12px;font-weight:400;color:#383a45;transform:scaleX(0.8562);transform-origin:50% 0;">41.8</div>
<div class="t" id="t33" style="left:276.32px;top:169.14px;font-size:12px;line-height:12px;font-weight:400;color:#383a45;transform:scaleX(0.8562);transform-origin:50% 0;">22.3</div>
<div class="t" id="t34" style="left:334.66px;top:169.14px;font-size:12px;line-height:12px;font-weight:400;color:#383a45;transform:scaleX(0.8989);transform-origin:50% 0;">9.8</div>
<div class="t" id="t35" style="left:384.72px;top:169.14px;font-size:12px;line-height:12px;font-weight:400;color:#383a45;transform:scaleX(0.8562);transform-origin:50% 0;">26.1</div>
<div class="t" id="t36" style="left:97.00px;top:187.96px;font-size:12.8px;line-height:12.8px;font-weight:400;color:#383a45;transform:scaleX(0.8290);transform-origin:0 0;">All</div>
<div class="t" id="t37" style="left:224.82px;top:188.64px;font-size:12px;line-height:12px;font-weight:400;color:#383a45;transform:scaleX(0.8562);transform-origin:50% 0;">45.2</div>
<div class="t" id="t38" style="left:276.32px;top:188.64px;font-size:12px;line-height:12px;font-weight:400;color:#383a45;transform:scaleX(0.8562);transform-origin:50% 0;">21.7</div>
<div class="t" id="t39" style="left:331.32px;top:188.64px;font-size:12px;line-height:12px;font-weight:400;color:#383a45;transform:scaleX(0.8562);transform-origin:50% 0;">10.3</div>
<div class="t" id="t40" style="left:384.72px;top:188.64px;font-size:12px;line-height:12px;font-weight:400;color:#383a45;transform:scaleX(0.8562);transform-origin:50% 0;">22.7</div>
<div class="t" id="t41" style="left:97.00px;top:207.36px;font-size:12.8px;line-height:12.8px;font-weight:700;color:#231f20;-webkit-text-stroke:0.2px currentColor;transform:scaleX(0.8437);transform-origin:0 0;">All districts in India</div>
<div class="t" id="t42" style="left:224.82px;top:208.04px;font-size:12px;line-height:12px;font-weight:700;color:#231f20;transform:scaleX(0.8562);transform-origin:50% 0;">52.5</div>
<div class="t" id="t43" style="left:276.32px;top:208.04px;font-size:12px;line-height:12px;font-weight:700;color:#231f20;transform:scaleX(0.8562);transform-origin:50% 0;">27.6</div>
<div class="t" id="t44" style="left:334.66px;top:208.04px;font-size:12px;line-height:12px;font-weight:700;color:#231f20;transform:scaleX(0.8989);transform-origin:50% 0;">6.7</div>
<div class="t" id="t45" style="left:384.72px;top:208.04px;font-size:12px;line-height:12px;font-weight:700;color:#231f20;transform:scaleX(0.8562);transform-origin:50% 0;">13.2</div>
<div class="t" id="t46" style="left:15.00px;top:227.89px;font-size:13.6px;line-height:13.6px;font-weight:700;color:#ffffff;-webkit-text-stroke:0.4px currentColor;transform:scaleX(0.8676);transform-origin:0 0;">BASIC ASSESSMENT</div>
<div class="t" id="t47" style="left:5.00px;top:249.33px;font-size:13.2px;line-height:13.2px;font-weight:400;color:#383a45;transform:scaleX(0.8704);transform-origin:0 0;"><span class="rb">READING CLASS 2</span></div>
<div class="t" id="t48" style="left:5.00px;top:264.13px;font-size:13.2px;line-height:13.2px;font-weight:400;color:#383a45;transform:scaleX(0.8585);transform-origin:0 0;"><span class="rb">TEXTBOOK: </span><span class="hl"><b>87.3% could&nbsp;</b></span></div>
<div class="t" id="t49" style="left:5.00px;top:279.23px;font-size:13.2px;line-height:13.2px;font-weight:400;color:#383a45;transform:scaleX(0.8400);transform-origin:0 0;"><span class="hl"><b>read at least a Class 2 level</b></span></div>
<div class="t" id="t50" style="left:5.00px;top:293.83px;font-size:13.2px;line-height:13.2px;font-weight:400;color:#383a45;transform:scaleX(0.8732);transform-origin:0 0;"><span class="hl"><b>textbook.</b></span> This number is</div>
<div class="t" id="t51" style="left:5.00px;top:308.43px;font-size:13.2px;line-height:13.2px;font-weight:400;color:#383a45;transform:scaleX(0.9227);transform-origin:0 0;">slightly higher than the All</div>
<div class="t" id="t52" style="left:5.00px;top:323.73px;font-size:13.2px;line-height:13.2px;font-weight:400;color:#383a45;transform:scaleX(0.8802);transform-origin:0 0;">Districts average of 73.6%</div>
<div class="t" id="t53" style="left:5.00px;top:351.03px;font-size:13.2px;line-height:13.2px;font-weight:400;color:#383a45;transform:scaleX(0.9046);transform-origin:0 0;"><span class="rb">SOLVING DIVISION</span></div>
<div class="t" id="t54" style="left:5.00px;top:365.53px;font-size:13.2px;line-height:13.2px;font-weight:400;color:#383a45;transform:scaleX(0.8483);transform-origin:0 0;"><span class="rb">PROBLEMS: </span><span class="hl"><b>51.3% could&nbsp;</b></span></div>
<div class="t" id="t55" style="left:5.00px;top:380.63px;font-size:13.2px;line-height:13.2px;font-weight:400;color:#383a45;transform:scaleX(0.8219);transform-origin:0 0;"><span class="hl"><b>solve division problems,</b></span></div>
<div class="t" id="t56" style="left:5.00px;top:395.53px;font-size:13.2px;line-height:13.2px;font-weight:400;color:#383a45;transform:scaleX(0.9121);transform-origin:0 0;">higher than the All</div>
<div class="t" id="t57" style="left:5.00px;top:410.13px;font-size:13.2px;line-height:13.2px;font-weight:400;color:#383a45;transform:scaleX(0.8802);transform-origin:0 0;">Districts average of 43.3%</div>
<div class="t" id="t58" style="left:5.00px;top:438.03px;font-size:13.2px;line-height:13.2px;font-weight:400;color:#383a45;transform:scaleX(0.8730);transform-origin:0 0;"><span class="rb">READING ENGLISH:</span></div>
<div class="t" id="t59" style="left:5.00px;top:452.93px;font-size:13.2px;line-height:13.2px;font-weight:400;color:#383a45;transform:scaleX(0.8248);transform-origin:0 0;"><span class="hl"><b>63.9% could read English&nbsp;</b></span></div>
<div class="t" id="t60" style="left:5.00px;top:467.63px;font-size:13.2px;line-height:13.2px;font-weight:400;color:#383a45;transform:scaleX(0.8584);transform-origin:0 0;"><span class="hl"><b>sentences.</b></span> This is higher</div>
<div class="t" id="t61" style="left:5.00px;top:482.83px;font-size:13.2px;line-height:13.2px;font-weight:400;color:#383a45;transform:scaleX(0.9256);transform-origin:0 0;">than the All Districts</div>
<div class="t" id="t62" style="left:5.00px;top:497.83px;font-size:13.2px;line-height:13.2px;font-weight:400;color:#383a45;transform:scaleX(0.8550);transform-origin:0 0;">average of 57.3%</div>
<div class="t" id="t63" style="left:186.00px;top:384.43px;font-size:12.6px;line-height:12.6px;font-weight:700;color:#ffffff;letter-spacing:2.6px;-webkit-text-stroke:0.5px currentColor;transform:scaleX(0.9180);transform-origin:0 0;">EVERYDAY CALCULATIONS</div>
<div class="t" id="t64" style="left:196.00px;top:400.04px;font-size:9.4px;line-height:9.4px;font-weight:400;color:#4a4a50;-webkit-text-stroke:0.25px currentColor;transform:scaleX(1.0579);transform-origin:0 0;">Questions and % of&nbsp; teens who got it right</div>
<div class="t" id="t65" style="left:188.92px;top:433.08px;font-size:15.5px;line-height:15.5px;font-weight:400;color:#2b2b30;transform:scaleX(0.9011);transform-origin:50% 0;"><span style="-webkit-text-stroke:0.75px currentColor">47.2</span><span style="font-size:11px">%</span></div>
<div class="t" id="t66" style="left:284.42px;top:433.08px;font-size:15.5px;line-height:15.5px;font-weight:400;color:#2b2b30;transform:scaleX(0.9011);transform-origin:50% 0;"><span style="-webkit-text-stroke:0.75px currentColor">68.5</span><span style="font-size:11px">%</span></div>
<div class="t" id="t67" style="left:363.32px;top:433.08px;font-size:15.5px;line-height:15.5px;font-weight:400;color:#2b2b30;transform:scaleX(0.9011);transform-origin:50% 0;"><span style="-webkit-text-stroke:0.75px currentColor">55.7</span><span style="font-size:11px">%</span></div>
<div class="t" id="t68" style="left:156.45px;top:470.53px;font-size:13.2px;line-height:13.2px;font-weight:400;color:#33333a;-webkit-text-stroke:0.25px currentColor;transform:scaleX(0.8608);transform-origin:50% 0;">Can you measure</div>
<div class="t" id="t69" style="left:166.70px;top:485.53px;font-size:13.2px;line-height:13.2px;font-weight:400;color:#33333a;-webkit-text-stroke:0.25px currentColor;transform:scaleX(0.8864);transform-origin:50% 0;">the length of a</div>
<div class="t" id="t70" style="left:170.01px;top:499.33px;font-size:13.2px;line-height:13.2px;font-weight:400;color:#33333a;-webkit-text-stroke:0.25px currentColor;transform:scaleX(0.8768);transform-origin:50% 0;">given pencil?</div>
<div class="t" id="t71" style="left:267.60px;top:470.73px;font-size:13.2px;line-height:13.2px;font-weight:400;color:#33333a;-webkit-text-stroke:0.25px currentColor;transform:scaleX(0.8383);transform-origin:50% 0;">Can you add</div>
<div class="t" id="t72" style="left:267.98px;top:485.33px;font-size:13.2px;line-height:13.2px;font-weight:400;color:#33333a;-webkit-text-stroke:0.25px currentColor;transform:scaleX(0.8805);transform-origin:50% 0;">weights 25g,</div>
<div class="t" id="t73" style="left:270.53px;top:500.03px;font-size:13.2px;line-height:13.2px;font-weight:400;color:#33333a;-webkit-text-stroke:0.25px currentColor;transform:scaleX(0.8254);transform-origin:50% 0;">500 g, 1kg?</div>
<div class="t" id="t74" style="left:358.44px;top:470.73px;font-size:13.2px;line-height:13.2px;font-weight:400;color:#33333a;-webkit-text-stroke:0.25px currentColor;transform:scaleX(0.8407);transform-origin:50% 0;">Can you</div>
<div class="t" id="t75" style="left:356.97px;top:485.33px;font-size:13.2px;line-height:13.2px;font-weight:400;color:#33333a;-webkit-text-stroke:0.25px currentColor;transform:scaleX(0.8970);transform-origin:50% 0;">calculate</div>
<div class="t" id="t76" style="left:366.88px;top:500.03px;font-size:13.2px;line-height:13.2px;font-weight:400;color:#33333a;-webkit-text-stroke:0.25px currentColor;transform:scaleX(0.8682);transform-origin:50% 0;">time?</div>
<div class="t" id="t77" style="left:429.60px;top:6.06px;font-size:13.4px;line-height:13.4px;font-weight:700;color:#ffffff;-webkit-text-stroke:0.4px currentColor;transform:scaleX(0.8744);transform-origin:0 0;">DIGITAL AWARENESS</div>
<div class="t" id="t78" style="left:429.60px;top:21.06px;font-size:13.4px;line-height:13.4px;font-weight:700;color:#ffffff;-webkit-text-stroke:0.4px currentColor;transform:scaleX(0.8862);transform-origin:0 0;">AND APTITUDE</div>
<div class="t" id="t79" style="left:428.50px;top:38.53px;font-size:36px;line-height:36px;font-weight:400;color:#d6333c;-webkit-text-stroke:0.8px #fff;transform:scaleX(0.7269);transform-origin:0 0;">96.6%</div>
<div class="t" id="t80" style="left:505.00px;top:41.70px;font-size:13px;line-height:13px;font-weight:400;color:#383a45;transform:scaleX(0.8124);transform-origin:0 0;">can use a</div>
<div class="t" id="t81" style="left:505.00px;top:56.40px;font-size:13px;line-height:13px;font-weight:400;color:#383a45;transform:scaleX(0.8559);transform-origin:0 0;">smartphone. Of</div>
<div class="t" id="t82" style="left:429.60px;top:71.50px;font-size:13px;line-height:13px;font-weight:400;color:#383a45;transform:scaleX(0.8390);transform-origin:0 0;">these 34.8% have their own</div>
<div class="t" id="t83" style="left:429.60px;top:86.50px;font-size:13px;line-height:13px;font-weight:400;color:#383a45;transform:scaleX(0.8579);transform-origin:0 0;">smartphone</div>
<div class="t" id="t84" style="left:427.80px;top:106.53px;font-size:36px;line-height:36px;font-weight:400;color:#d6333c;-webkit-text-stroke:0.8px #fff;transform:scaleX(0.7230);transform-origin:0 0;">23.8%</div>
<div class="t" id="t85" style="left:504.00px;top:110.60px;font-size:13px;line-height:13px;font-weight:400;color:#383a45;transform:scaleX(0.8147);transform-origin:0 0;">in&nbsp; the 14-16 age</div>
<div class="t" id="t86" style="left:503.00px;top:124.90px;font-size:13px;line-height:13px;font-weight:400;color:#383a45;transform:scaleX(0.8729);transform-origin:0 0;">group own</div>
<div class="t" id="t87" style="left:430.00px;top:140.00px;font-size:13px;line-height:13px;font-weight:400;color:#383a45;transform:scaleX(0.8579);transform-origin:0 0;">smartphones. Ownership %</div>
<div class="t" id="t88" style="left:430.00px;top:154.80px;font-size:13px;line-height:13px;font-weight:400;color:#383a45;transform:scaleX(0.8377);transform-origin:0 0;">rises to 54.5% among those</div>
<div class="t" id="t89" style="left:430.00px;top:169.70px;font-size:13px;line-height:13px;font-weight:400;color:#383a45;transform:scaleX(0.7966);transform-origin:0 0;">aged 17-18</div>
<div class="t" id="t90" style="left:429.60px;top:194.18px;font-size:14.2px;line-height:14.2px;font-weight:700;color:#231f20;-webkit-text-stroke:0.8px currentColor;transform:scaleX(0.8277);transform-origin:0 0;">WHAT CAN TEENS DO WITH</div>
<div class="t" id="t91" style="left:429.60px;top:208.78px;font-size:14.2px;line-height:14.2px;font-weight:700;color:#231f20;-webkit-text-stroke:0.8px currentColor;transform:scaleX(0.8101);transform-origin:0 0;">THEIR SMARTPHONES?</div>
<div class="t" id="t92" style="left:442.00px;top:228.35px;font-size:14px;line-height:14px;font-weight:400;color:#383a45;transform:scaleX(0.8478);transform-origin:0 0;">Watch videos related to</div>
<div class="t" id="t93" style="left:429.60px;top:243.45px;font-size:14px;line-height:14px;font-weight:400;color:#383a45;transform:scaleX(0.8342);transform-origin:0 0;">studies, exchange notes on</div>
<div class="t" id="t94" style="left:429.60px;top:258.05px;font-size:14px;line-height:14px;font-weight:400;color:#383a45;transform:scaleX(0.8321);transform-origin:0 0;">messaging apps: <span class="hr"><b>62.9%</b></span></div>
<div class="t" id="t95" style="left:442.00px;top:279.45px;font-size:14px;line-height:14px;font-weight:400;color:#383a45;transform:scaleX(0.8327);transform-origin:0 0;">Pay bills, recharge phone,</div>
<div class="t" id="t96" style="left:429.60px;top:294.45px;font-size:14px;line-height:14px;font-weight:400;color:#383a45;transform:scaleX(0.8515);transform-origin:0 0;">book tickets: <span class="hr"><b>30.4%</b></span></div>
<div class="t" id="t97" style="left:442.00px;top:314.25px;font-size:14px;line-height:14px;font-weight:400;color:#383a45;transform:scaleX(0.7999);transform-origin:0 0;">Use social media sites: <span class="hr"><b>93.6%</b></span></div>
<div class="t" id="t98" style="left:442.00px;top:362.55px;font-size:14px;line-height:14px;font-weight:400;color:#383a45;transform:scaleX(0.8306);transform-origin:0 0;">Set an alarm on</div>
<div class="t" id="t99" style="left:429.60px;top:377.55px;font-size:14px;line-height:14px;font-weight:400;color:#383a45;transform:scaleX(0.8362);transform-origin:0 0;">smartphone: <span class="hr"><b>78.4%</b></span> (only 15%</div>
<div class="t" id="t100" style="left:429.60px;top:391.95px;font-size:14px;line-height:14px;font-weight:400;color:#383a45;transform:scaleX(0.8503);transform-origin:0 0;">girls were successful)</div>
<div class="t" id="t101" style="left:442.00px;top:412.75px;font-size:14px;line-height:14px;font-weight:400;color:#383a45;transform:scaleX(0.8491);transform-origin:0 0;">Google who was India’s first</div>
<div class="t" id="t102" style="left:429.60px;top:428.15px;font-size:14px;line-height:14px;font-weight:400;color:#383a45;transform:scaleX(0.8440);transform-origin:0 0;">woman president: <span class="hr"><b>73.2%</b></span></div>
<div class="t" id="t103" style="left:442.00px;top:448.95px;font-size:14px;line-height:14px;font-weight:400;color:#383a45;transform:scaleX(0.8119);transform-origin:0 0;">Search a YouTube video:</div>
<div class="t" id="t104" style="left:429.60px;top:463.55px;font-size:14px;line-height:14px;font-weight:400;color:#383a45;transform:scaleX(0.8217);transform-origin:0 0;"><span class="hr"><b>86.1%</b></span></div>
<div class="t" id="t105" style="left:442.00px;top:483.35px;font-size:14px;line-height:14px;font-weight:400;color:#383a45;transform:scaleX(0.8286);transform-origin:0 0;">Share a video on social</div>
<div class="t" id="t106" style="left:429.60px;top:497.95px;font-size:14px;line-height:14px;font-weight:400;color:#383a45;transform:scaleX(0.8487);transform-origin:0 0;">media: <span class="hr"><b>95.2%</b></span></div>
<div class="t" id="t107" style="left:429.60px;top:341.18px;font-size:14.2px;line-height:14.2px;font-weight:700;color:#231f20;-webkit-text-stroke:0.8px currentColor;transform:scaleX(0.8207);transform-origin:0 0;">BASIC DIGITAL TASKS</div>
</body></html>
